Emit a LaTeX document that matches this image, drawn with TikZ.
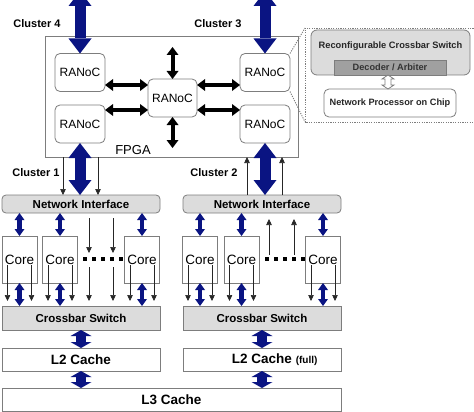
\documentclass[tikz,border=0pt]{standalone}
\usepackage{fontspec}
\setmainfont{Liberation Sans}
\usetikzlibrary{arrows.meta,calc}
\definecolor{navyb}{RGB}{10,20,130}
\definecolor{lgray}{RGB}{220,220,220}
\definecolor{dgray}{RGB}{160,160,160}
\definecolor{bgray}{RGB}{125,125,125}
\newcommand\myfs[1]{\fontsize{#1}{#1}\selectfont}
\begin{document}
\begin{tikzpicture}[x=1pt,y=-1pt,
  box/.style={draw=bgray, line width=0.8pt, inner sep=0pt, outer sep=0pt, fill=white},
  ranoc/.style={box, rounded corners=5pt, minimum width=50pt, minimum height=38pt, font=\myfs{12}},
  corebox/.style={box, minimum width=35pt, minimum height=47pt, font=\myfs{13.5}},
  graybar/.style={box, fill=lgray, minimum width=158pt, font=\bfseries\myfs{11.5}},
  cache/.style={box, minimum width=158pt, minimum height=23pt, font=\bfseries\myfs{13.5}},
  clab/.style={font=\bfseries\myfs{11}, inner sep=0pt},
  bigblue/.style={draw=navyb, line width=11pt, {Triangle[width=23pt,length=15pt,line width=0pt]}-{Triangle[width=23pt,length=15pt,line width=0pt]}},
  midblue/.style={draw=navyb, line width=10pt, {Triangle[width=21pt,length=6pt,line width=0pt]}-{Triangle[width=21pt,length=6pt,line width=0pt]}},
  smallblue/.style={draw=navyb, line width=4.5pt, {Triangle[width=10pt,length=7pt,line width=0pt]}-{Triangle[width=10pt,length=7pt,line width=0pt]}},
  blk/.style={draw=black, line width=4pt, {Triangle[width=12pt,length=8pt,line width=0pt]}-{Triangle[width=12pt,length=8pt,line width=0pt]}},
  thinar/.style={draw=black!85, line width=0.6pt, -{Triangle[width=5.5pt,length=6pt]}},
  dotrow/.style={draw=black, line width=4pt, dash pattern=on 4pt off 5pt},
  zoomline/.style={draw=bgray, line width=0.9pt, dash pattern=on 1.2pt off 1.2pt},
  hollow/.style={draw=bgray, fill=white, line width=0.7pt, line join=miter}
]
\useasboundingbox (0,0) rectangle (474,412);

% ---------- FPGA ----------
\node[box, minimum width=253pt, minimum height=121pt] (fpga) at (171.5,96.5) {};
\node[font=\myfs{13}, inner sep=0pt] (fpgalbl) at (133,150) {FPGA};
\node[ranoc] (rtl) at (80,72.5) {RANoC};
\node[ranoc] (rbl) at (80,124) {RANoC};
\node[ranoc, minimum width=49pt] (rc) at (172.5,98) {RANoC};
\node[ranoc] (rtr) at (265,72.5) {RANoC};
\node[ranoc] (rbr) at (265,124) {RANoC};

\coordinate (h1) at (0,85);
\coordinate (h2) at (0,110);
\coordinate (rcup) at (172.5,47);
\coordinate (rcdn) at (172.5,148);
\draw[blk] (rtl.east |- h1) -- (rc.west |- h1);
\draw[blk] (rbl.east |- h2) -- (rc.west |- h2);
\draw[blk] (rc.east |- h1) -- (rtr.west |- h1);
\draw[blk] (rc.east |- h2) -- (rbr.west |- h2);
\draw[blk] (rcup) -- (rc.north);
\draw[blk] (rc.south) -- (rcdn);

% ---------- cluster labels ----------
\node[clab] (cl4) at (37,24) {Cluster 4};
\node[clab] (cl3) at (218,24) {Cluster 3};
\node[clab] (cl1) at (36,173) {Cluster 1};
\node[clab] (cl2) at (214,173) {Cluster 2};

% ---------- inset ----------
\node[draw=none, minimum width=171pt, minimum height=94pt, inner sep=0pt, outer sep=0pt] (inset) at (390.5,75) {};
\draw[zoomline] (inset.north east) -- (inset.north west) -- (inset.south west) -- (inset.south east);
\node[box, fill=lgray, rounded corners=6pt, minimum width=159pt, minimum height=45pt] (rcs) at (390.5,52.5) {};
\node[font=\bfseries\myfs{9.3}, inner sep=0pt, text=black!85] (rcslbl) at (390.5,46) {Reconfigurable Crossbar Switch};
\node[box, fill=dgray, minimum width=112pt, minimum height=15pt, font=\bfseries\myfs{9.2}, text=black!80] (dec) at (390,67.5) {Decoder / Arbiter};
\node[box, rounded corners=5pt, minimum width=132pt, minimum height=28pt, font=\bfseries\myfs{9.2}, text=black!85] (npc) at (390,103) {Network Processor on Chip};
\coordinate (darr) at ($(dec.south)!0.5!(npc.north)+(-2,0)$);
\draw[hollow] ($(darr)+(0,-7)$) -- ++(6,4) -- ++(-3,0) -- ++(0,6) -- ++(3,0) -- ++(-6,4)
  -- ++(-6,-4) -- ++(3,0) -- ++(0,-6) -- ++(-3,0) -- cycle;
\draw[zoomline] (rtr.north east) -- (inset.north west);
\draw[zoomline] (rtr.south east) -- (inset.south west);

% ---------- lower clusters ----------
\node[graybar, rounded corners=4pt, minimum height=18pt] (ni1) at (81,204) {Network Interface};
\node[graybar, rounded corners=4pt, minimum height=18pt] (ni2) at (262,204) {Network Interface};
\node[corebox] (c11) at (19.5,259.5) {Core};
\node[corebox] (c12) at (60,259.5) {Core};
\node[corebox] (c13) at (142,259.5) {Core};
\node[corebox] (c21) at (200,259.5) {Core};
\node[corebox] (c22) at (241.5,259.5) {Core};
\node[corebox] (c23) at (323,259.5) {Core};
\node[graybar, minimum height=24pt] (xb1) at (81,318) {Crossbar Switch};
\node[graybar, minimum height=24pt] (xb2) at (262,318) {Crossbar Switch};
\node[cache] (l21) at (81,359.5) {L2 Cache};
\node[cache] (l22) at (262,359.5) {L2 Cache\rlap{ \myfs{10}(full)}};
\node[cache, minimum width=339pt] (l3) at (171.5,399.5) {L3 Cache};

% big cluster arrows
\coordinate (c4top) at (80,-9);
\coordinate (c3top) at (265,-9);
\draw[bigblue] (c4top) -- (rtl.north);
\draw[bigblue] (c3top) -- (rtr.north);
\draw[bigblue] (rbl.south) -- (rbl.south |- ni1.north);
\draw[bigblue] (rbr.south) -- (rbr.south |- ni2.north);

% thin cluster arrows
\draw[thinar] ($(fpga.south west)+(18,0)$) -- ($(ni1.north west)+(61,0)$);
\draw[thinar] ($(fpga.south west)+(53,0)$) -- ($(ni1.north west)+(96,0)$);
\draw[thinar] ($(ni2.north west)+(64,0)$) -- ($(fpga.south west)+(202,0)$);
\draw[thinar] ($(ni2.north west)+(99,0)$) -- ($(fpga.south west)+(237,0)$);

% core arrows
\foreach \c/\n/\x in {c11/ni1/xb1, c12/ni1/xb1, c13/ni1/xb1, c21/ni2/xb2, c22/ni2/xb2, c23/ni2/xb2}{
  \draw[smallblue] (\c.north |- \n.south) -- (\c.north);
  \draw[smallblue] (\c.south) -- (\c.south |- \x.north);
  \draw[thinar] ($(\c.south west)+(5.5,-18)$) -- ($(\c.south west |- \x.north)+(5.5,-5)$);
  \draw[thinar] ($(\c.south east)+(-5.5,-18)$) -- ($(\c.south east |- \x.north)+(-5.5,-5)$);
}

% dotted rows
\coordinate (d1a) at (83,259);
\coordinate (d1b) at (124,259);
\coordinate (d2a) at (265,259);
\coordinate (d2b) at (306,259);
\draw[dotrow] (d1a) -- (d1b);
\draw[dotrow] (d2a) -- (d2b);
\draw[thinar] ($(ni1.south west)+(87,5)$) -- ($(d1a)+(6,-6)$);
\draw[thinar] ($(ni1.south west)+(111,5)$) -- ($(d1a)+(30,-6)$);
\draw[thinar] ($(d1a)+(6,8)$) -- ($(xb1.north west)+(87,-5)$);
\draw[thinar] ($(d1a)+(30,8)$) -- ($(xb1.north west)+(111,-5)$);
\draw[thinar] ($(d2a)+(4,-4)$) -- ($(ni2.south west)+(86,6)$);
\draw[thinar] ($(d2a)+(29,-4)$) -- ($(ni2.south west)+(111,6)$);

% cache arrows
\draw[midblue] (xb1.south) -- (l21.north);
\draw[midblue] (l21.south) -- (l21.south |- l3.north);
\draw[midblue] (xb2.south) -- (l22.north);
\draw[midblue] (l22.south) -- (l22.south |- l3.north);
\end{tikzpicture}
\end{document}
